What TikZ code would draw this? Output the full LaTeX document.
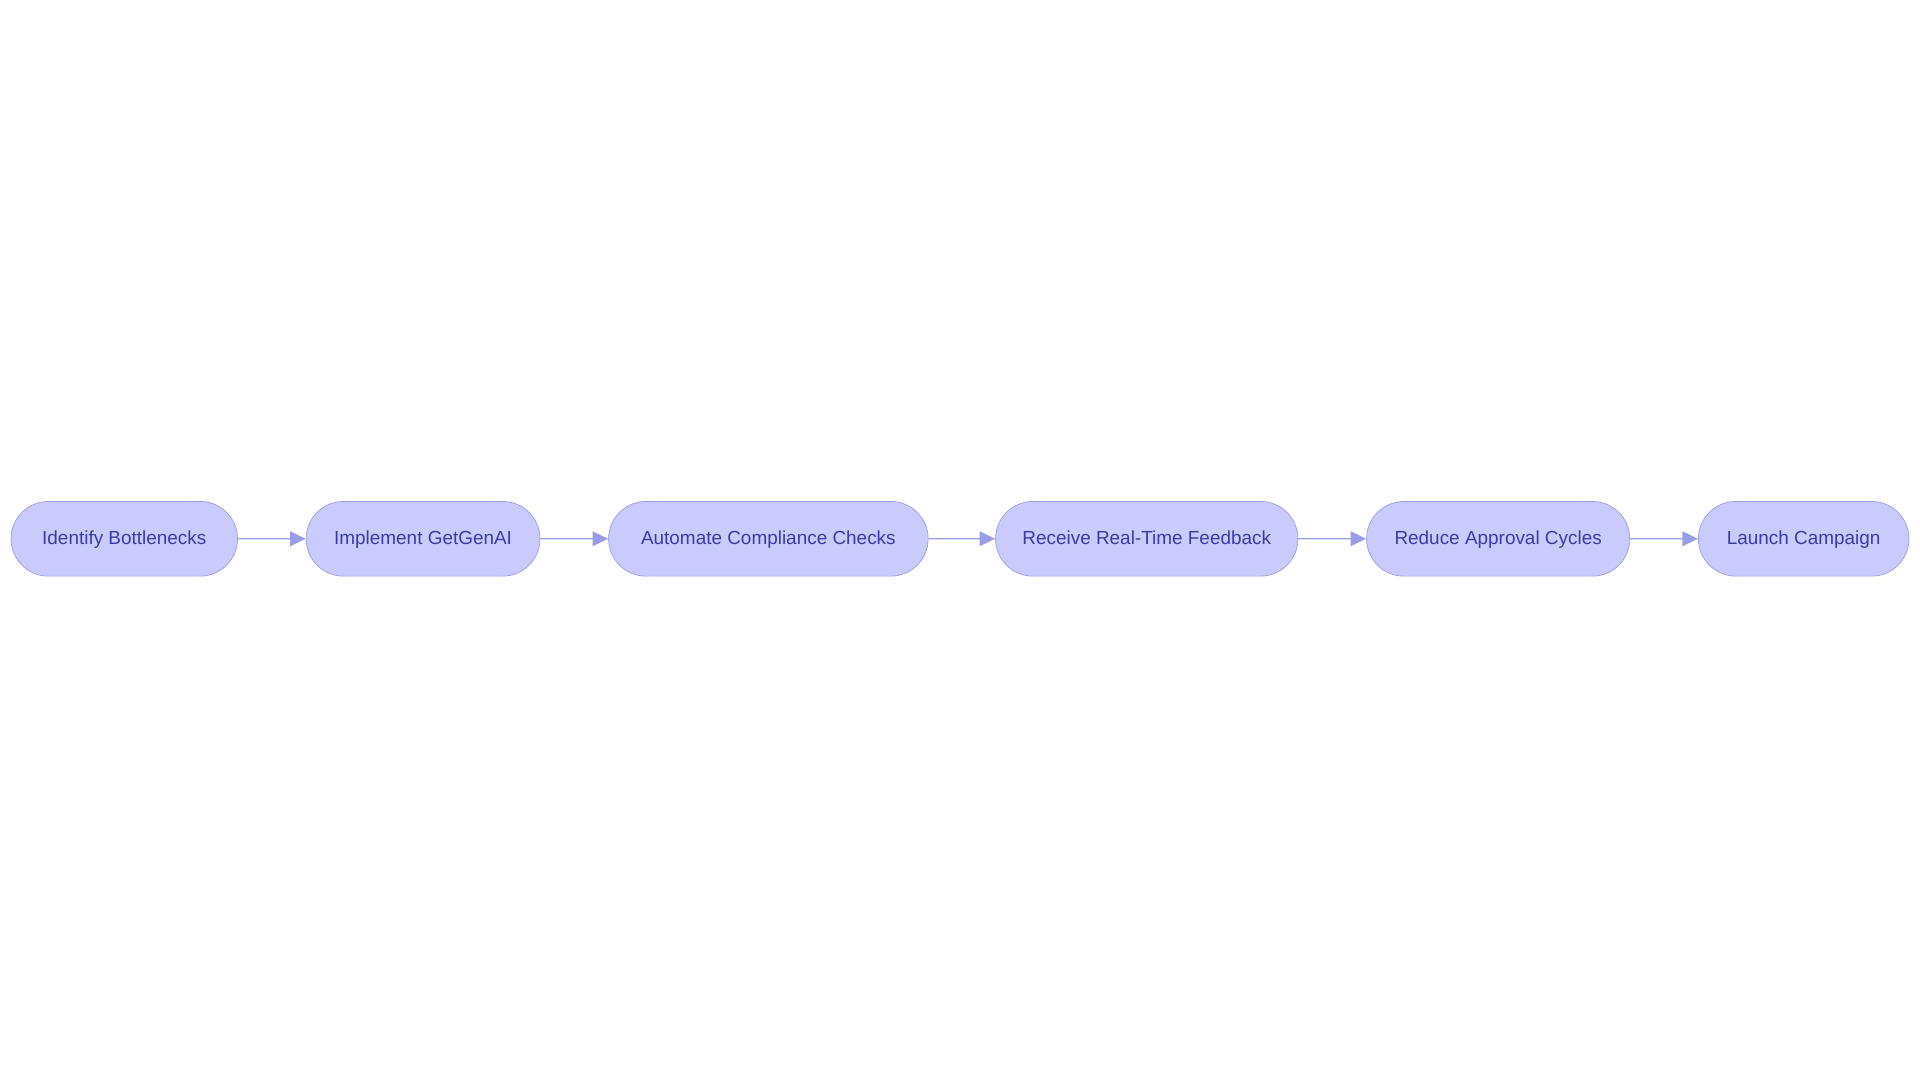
\documentclass[tikz,border=0pt]{standalone}
\usepackage{fontspec}
\setmainfont{Liberation Sans}
\usetikzlibrary{positioning, shapes.misc, arrows.meta}
\definecolor{stepfill}{HTML}{C8CBFC}
\definecolor{stepline}{HTML}{9A9DE6}
\definecolor{steptext}{HTML}{3B3BA6}
\tikzset{%
	stage/.style={draw=stepline, fill=stepfill, rounded rectangle, minimum height=1.525cm,%
		inner sep=0mm, text=steptext, text height=1.6ex, text depth=0.4ex,%
		font=\fontsize{11}{13}\selectfont},
	flow/.style={-{Triangle[length=3.2mm, width=3mm]}, draw=stepline, line width=0.8pt}
}
\begin{document}
\begin{tikzpicture}
	\useasboundingbox (0,0) rectangle (39.2,-22.1);
	\node[stage, minimum width=4.625cm] (s1) at (2.5375,-11) {Identify Bottlenecks};
	\node[stage, minimum width=4.775cm] (s2) at (8.6375,-11) {Implement GetGenAI};
	\node[stage, minimum width=6.525cm] (s3) at (15.6875,-11) {Automate Compliance Checks};
	\node[stage, minimum width=6.175cm] (s4) at (23.4125,-11) {Receive Real-Time Feedback};
	\node[stage, minimum width=5.375cm] (s5) at (30.5875,-11) {Reduce Approval Cycles};
	\node[stage, minimum width=4.3cm] (s6) at (36.825,-11) {Launch Campaign};

	\draw[flow] (s1) -- (s2);
	\draw[flow] (s2) -- (s3);
	\draw[flow] (s3) -- (s4);
	\draw[flow] (s4) -- (s5);
	\draw[flow] (s5) -- (s6);
\end{tikzpicture}
\end{document}
